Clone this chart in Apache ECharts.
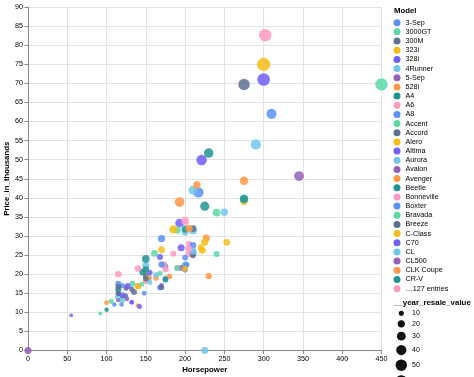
<!DOCTYPE html>
<html><head><meta charset="utf-8">
<script src="https://cdn.jsdelivr.net/npm/echarts@6/dist/echarts.min.js"></script>
<style>html,body{margin:0;padding:0;background:#fff}#c{width:474px;height:377px}</style>
</head><body><div id="c"></div>
<script>
// All model names (colour domain, sorted like the original)
const models = ["Integra","TL","CL","RL","A4","A6","A8","323i","328i","528i","Century","Regal","Park Avenue","LeSabre","DeVille","Seville","Eldorado","Catera","Escalade","Cavalier","Malibu","Lumina","Monte Carlo","Camaro","Corvette","Prizm","Metro","Impala","Sebring Coupe","Sebring Conv.","Concorde","Cirrus","LHS","Town & Country","300M","Neon","Avenger","Stratus","Intrepid","Viper","Ram Pickup","Ram Wagon","Ram Van","Dakota","Durango","Caravan","Escort","Mustang","Contour","Taurus","Focus","Crown Victoria","Explorer","Windstar","Expedition","Ranger","F-Series","Civic","Accord","CR-V","Passport","Odyssey","Accent","Elantra","Sonata","I30","S-Type","Wrangler","Cherokee","Grand Cherokee","ES300","GS300","GS400","LS400","LX470","RX300","Continental","Town car","Navigator","Mirage","Eclipse","Galant","Diamante","3000GT","Montero","Montero Sport","Mystique","Cougar","Sable","Grand Marquis","Mountaineer","Villager","C-Class","E-Class","S-Class","SL-Class","SLK","SLK230","CLK Coupe","CL500","M-Class","Sentra","Altima","Maxima","Quest","Pathfinder","Xterra","Frontier","Cutlass","Intrigue","Alero","Aurora","Bravada","Silhouette","Breeze","Voyager","Prowler","Sunfire","Grand Am","Firebird","Grand Prix","Bonneville","Montana","Boxter","Carrera Coupe","Carrera Cabrio","5-Sep","3-Sep","SL","SC","SW","LW","LS","Outback","Forester","Corolla","Camry","Avalon","Celica","Tacoma","Sienna","RAV4","4Runner","Land Cruiser","Golf","Jetta","Passat","Cabrio","GTI","Beetle","S40","V40","S70","V70","C70","S80"];

// Visible points
const pointModel = ["Integra","TL","CL","RL","A4","A6","A8","328i","528i","Century",
"Regal","Park Avenue","LeSabre","DeVille","Seville","Eldorado","Catera","Cavalier","Malibu","Lumina",
"Monte Carlo","Camaro","Corvette","Prizm","Metro","Sebring Coupe","Sebring Conv.","Concorde","Cirrus","LHS",
"Town & Country","Neon","Avenger","Stratus","Intrepid","Viper","Ram Pickup","Ram Wagon","Ram Van","Dakota",
"Caravan","Escort","Mustang","Contour","Taurus","Crown Victoria","Explorer","Windstar","Expedition","Ranger",
"F-Series","Civic","Accord","CR-V","Passport","Odyssey","Accent","Elantra","Sonata","I30",
"Wrangler","Cherokee","Grand Cherokee","ES300","GS300","LS400","Continental","Town car","Mirage","Eclipse",
"Galant","Diamante","3000GT","Montero","Montero Sport","Mystique","Cougar","Sable","Grand Marquis","Mountaineer",
"Villager","C-Class","E-Class","S-Class","SL-Class","Sentra","Altima","Maxima","Quest","Pathfinder",
"Cutlass","Alero","Aurora","Bravada","Silhouette","Neon","Breeze","Voyager","Sunfire","Grand Am",
"Firebird","Grand Prix","Bonneville","Boxter","Carrera Coupe","Carrera Cabrio","SL","SC","SW","Corolla",
"Camry","Avalon","Celica","Tacoma","RAV4","4Runner","Land Cruiser","Golf","Jetta","Passat",
"Cabrio","GTI","Beetle"];
const horsepower = [140,225,225,210,150,200,310,193,193,175,
240,205,205,275,275,275,200,115,170,175,
180,200,345,120,55,163,168,200,168,253,
0,132,163,168,202,450,230,175,175,120,
150,110,190,170,155,200,210,200,240,119,
220,106,135,146,205,210,92,140,148,227,
120,190,195,210,225,290,275,215,113,154,
145,210,161,200,173,125,125,153,200,210,
170,185,221,275,302,126,155,222,170,170,
150,150,250,190,185,132,132,150,115,140,
200,195,205,217,300,300,100,100,124,120,
133,210,140,142,127,150,230,115,115,150,
115,115,115];
const priceInThousands = [21.5,28.4,0,42,23.99,33.95,62,33.4,38.9,21.975,
25.3,31.965,27.885,39.895,44.475,39.665,31.01,13.26,16.535,18.89,
19.39,24.34,45.705,13.96,9.235,19.84,24.495,22.245,16.48,28.34,
0,12.64,19.045,20.23,22.505,69.725,19.46,21.315,18.575,16.98,
19.565,12.07,21.56,17.035,17.885,22.195,31.93,21.41,36.135,12.05,
26.935,12.885,15.35,20.55,26.6,26,9.699,11.799,14.999,29.465,
14.46,21.62,26.895,31.505,37.805,54.005,39.08,43.33,13.987,19.047,
17.357,24.997,25.45,31.807,22.527,16.24,16.54,19.035,22.605,27.56,
22.51,31.75,49.9,69.7,82.6,13.499,20.39,26.249,26.399,29.299,
18.145,18.27,36.229,31.598,25.345,12.64,16.08,18.85,14.9,16.7,
21.2,21.665,25.31,41.43,71.02,74.97,10.685,12.535,14.29,13.108,
17.518,25.545,16.875,11.528,16.888,22.288,51.728,14.9,16.7,21.2,
19.99,17.5,15.9];
const yearResaleValue = [16.36,19.875,18.225,29.725,22.255,23.555,39,28.675,36.125,12.475,
13.74,20.19,13.36,22.525,27.1,25.725,18.225,9.25,11.225,10.31,
11.525,13.025,36.225,9.125,5.16,12.36,14.18,12.64,12.24,17.325,
19.54,7.75,12.545,10.185,12.76,58.47,15.06,15.51,13.425,10.52,
12.025,7.425,12.76,8.835,10.055,14.21,16.64,13.175,23.575,7.85,
15.075,9.85,13.21,17.71,17.525,19.49,5.86,7.825,8.91,19.69,
13.475,13.775,18.81,26.975,32.075,40.375,20.525,21.725,7.6,10.65,
9.185,14.5,18.225,19.725,16.575,8.1,11.5,9.945,13.34,17,
15.17,26.05,41.45,50.375,58.6,8.45,12.085,18.225,17.525,19.49,
11.24,10.29,19.89,19.925,14.21,7.75,9.8,12.545,9.04,10.29,
12.025,12.43,14.9,41.25,60.625,67.55,7.75,9.2,10.59,10.025,
13.245,18.14,15.445,9.575,13.325,19.425,34.08,11.425,13.24,16.725,
16.575,13.76,13.5];

const sizeLegendValues = [10,20,30,40,50,60];
const legendShown = 29;
const palette = ['#5B8FF9','#5AD8A6','#5D7092','#F6BD16','#6F5EF9','#6DC8EC','#945FB9','#FF9845','#1E9493','#FF99C3'];

const FONT = 'Liberation Sans, Arial, Helvetica, sans-serif';
const domain = Array.from(new Set(models)).sort();
const colorOf = m => palette[domain.indexOf(m) % palette.length];
const diam = v => 1.62 * Math.sqrt(Math.max(v, 0));

const series = domain.map(m => ({
  type: 'scatter', name: m, clip: false,
  data: pointModel.map((pm, i) => pm === m ? [horsepower[i], priceInThousands[i], yearResaleValue[i]] : null).filter(Boolean),
  symbolSize: v => diam(v[2]),
  itemStyle: { color: colorOf(m), opacity: 0.85 },
  emphasis: { disabled: true }
}));
const moreLabel = '\u2026' + (domain.length - legendShown) + ' entries';
series.push({ type: 'scatter', name: moreLabel, data: [], itemStyle: { color: palette[legendShown % palette.length] } });

// legend titles and size legend
const g = [];
g.push({ type: 'text', x: 394, y: 10.5, style: { text: 'Model', font: 'bold 7.8px ' + FONT, fill: '#000', verticalAlign: 'middle', textVerticalAlign: 'middle' } });
g.push({ type: 'text', x: 394, y: 303.3, style: { text: '__year_resale_value', font: 'bold 7.9px ' + FONT, fill: '#000', verticalAlign: 'middle', textVerticalAlign: 'middle' } });
let yy = 313.3, prev = null;
sizeLegendValues.forEach(v => {
  const d = diam(v);
  if (prev !== null) yy += (prev + d) / 2 + 4.3;
  prev = d;
  g.push({ type: 'circle', shape: { cx: 401.3, cy: yy, r: d / 2 }, style: { fill: '#111' } });
  g.push({ type: 'text', x: 412, y: yy, style: { text: String(v), font: '7px ' + FONT, fill: '#000', verticalAlign: 'middle', textVerticalAlign: 'middle' } });
});

const axisCommon = {
  axisLine: { show: true, lineStyle: { color: '#888', width: 1 } },
  axisTick: { show: true, length: 3.5, lineStyle: { color: '#888' } },
  splitLine: { show: true, lineStyle: { color: '#e3e3e3', width: 1 } },
  nameTextStyle: { fontWeight: 'bold', fontSize: 7.8, color: '#000', fontFamily: FONT },
  nameMoveOverlap: false,
  axisLabel: { fontSize: 7.2, color: '#000', fontFamily: FONT }
};

const chart = echarts.init(document.getElementById('c'), null, { renderer: 'canvas' });
chart.setOption({
  animation: false,
  backgroundColor: '#fff',
  textStyle: { fontFamily: FONT },
  grid: { left: 28, right: 92.5, top: 7, bottom: 26.5, containLabel: false, outerBoundsMode: 'none' },
  xAxis: Object.assign({}, axisCommon, {
    type: 'value', min: 0, max: 450, interval: 50,
    name: 'Horsepower', nameLocation: 'middle', nameGap: 15,
    axisLabel: Object.assign({}, axisCommon.axisLabel, { margin: 5 })
  }),
  yAxis: Object.assign({}, axisCommon, {
    type: 'value', min: 0, max: 90, interval: 5,
    name: 'Price_in_thousands', nameLocation: 'middle', nameGap: 17, nameRotate: 90,
    axisLabel: Object.assign({}, axisCommon.axisLabel, { margin: 5 })
  }),
  legend: {
    orient: 'vertical', left: 393.5, top: 18.2, padding: 0,
    itemWidth: 7, itemHeight: 7, itemGap: 0.17, icon: 'circle', selectedMode: false,
    data: domain.slice(0, legendShown).concat([moreLabel]),
    textStyle: { fontSize: 7.2, lineHeight: 9, color: '#000', fontFamily: FONT },
    itemStyle: { opacity: 1 }
  },
  graphic: g,
  series: series
});
</script></body></html>
